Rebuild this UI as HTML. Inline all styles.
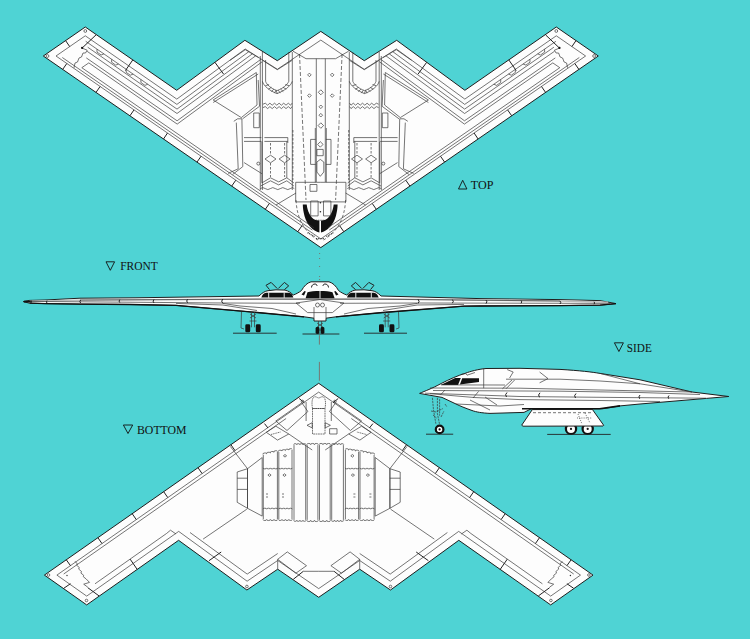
<!DOCTYPE html>
<html><head><meta charset="utf-8">
<style>
html,body{margin:0;padding:0;background:#4fd3d4;width:750px;height:639px;overflow:hidden}
svg{display:block}
.lbl{font-family:"Liberation Serif",serif;font-size:12.8px;fill:#111}
.o{fill:#fdfdfd;stroke:#1e1e1e;stroke-width:1}
.t{fill:none;stroke:#3a3a3a;stroke-width:0.7}
.k{fill:none;stroke:#222;stroke-width:1}
.b{fill:#111;stroke:none}
</style></head>
<body>
<svg width="750" height="639" viewBox="0 0 750 639">
<rect width="750" height="639" fill="#4fd3d4"/>
<path d="M319.6 253 V254 M319.6 258 V259 M319.6 266 V267 M319.6 276 V277 M319.6 279 V280 M319.4 335.2 V344.6 M319.4 361.9 V380.7" stroke="#7a6e66" stroke-width="0.9" fill="none"/>
<path class="o" d="M43.3 56.0 L85.3 27.0 L176.7 90.3 L244.9 40.3 L277.3 60.7 L320.8 31.4 L364.3 60.7 L396.7 40.3 L464.9 90.3 L556.3 27.0 L598.3 56.0 L320.8 247.6 Z"/>
<path class="t" d="M56.0 56.0 L85.3 35.8 L176.8 99.1 L245.2 49.0 L277.4 69.3 L320.8 40.1 L364.2 69.3 L396.4 49.0 L464.8 99.1 L556.3 35.8 L585.6 56.0 L320.8 238.9 Z"/>
<path class="b" d="M302.8 204.4 L306.7 204.4 C307.5 211 310 217 315 219.7 L319.4 220.8 L319.4 232.6 C313 231 307 225 304.5 216 C303.5 212 302.8 208 302.8 204.4 Z"/>
<path class="b" d="M337.6 204.4 L333.7 204.4 C332.9 211 330.4 217 325.4 219.7 L321 220.8 L321 232.6 C327.4 231 333.4 225 335.9 216 C336.9 212 337.6 208 337.6 204.4 Z"/>
<path d="M316 220.3 H324.5 M307.5 232.8 l7 3.6 M326.3 236.4 l7 -3.6 M316 238.6 h8" stroke="#333" stroke-width="1.1" stroke-dasharray="1 0.8" fill="none"/>
<circle cx="320.4" cy="202.8" r="0.8" fill="#222"/><circle cx="320.4" cy="211.8" r="0.8" fill="#222"/>
<path class="t" d="M318.3 92.3 L320.8 89.8 L323.3 92.3 L320.8 94.8 Z"/>
<path class="t" d="M319.0 106.8 L320.8 105.0 L322.6 106.8 L320.8 108.6 Z"/>
<path class="t" d="M319.0 115.2 L320.8 113.4 L322.6 115.2 L320.8 117.0 Z"/>
<path class="t" d="M318.1 125.6 L320.8 122.8 L323.6 125.6 L320.8 128.3 Z"/>
<path class="t" d="M317.6 144.4 L320.3 141.7 L323.1 144.4 L320.3 147.2 Z"/>
<path class="t" d="M310.0 184.5 L316.9 184.5 L316.9 191.3 L310.0 191.3 Z"/>
<path class="t" d="M316.9 149.4 L323.2 149.4 L323.2 155.7 L316.9 155.7 Z"/>
<path class="t" d="M316.9 162 L320.3 159.4 L323.8 162 V172 L320.3 176.3 L316.9 172 Z"/>
<g><path class="t" d="M85.7 41.3 L176.9 104.4 L248.9 51.6"/>
<path class="t" d="M87.7 47.2 L177.0 109.1 L252.4 53.8"/>
<path class="t" d="M87.1 51.3 L177.0 113.5 L255.7 55.8"/>
<path class="t" d="M86.3 57.9 L177.1 120.8 L261.0 59.2"/>
<path class="t" d="M88.8 62.9 L177.2 124.1 L262.0 61.9"/>
<path class="t" d="M88.8 62.9 L81.8 67.7"/>
<path class="t" d="M62.3 57.5 L312.4 230.1"/>
<path class="t" d="M81.8 67.7 L313.9 227.9"/>
<path class="t" d="M82.1 48.1 L87.2 50.2 L85.5 53.0 L83.0 53.0 L81.5 57.0 L79.0 58.0 L77.5 62.0 L75.0 63.0 L74.0 67.8"/>
<path class="k" d="M96.0 34.9 L82.1 48.1"/>
<path class="k" d="M65.6 40.6 L69.7 46.6"/>
<path class="k" d="M297.8 231.7 L301.9 225.8"/>
<path class="k" d="M265.3 209.3 L269.4 203.4"/>
<path class="k" d="M231.7 186.1 L235.8 180.2"/>
<path class="k" d="M197.0 162.1 L201.1 156.2"/>
<path class="k" d="M163.5 139.0 L167.5 133.0"/>
<path class="k" d="M129.9 115.8 L134.0 109.9"/>
<path class="k" d="M96.0 92.4 L100.1 86.5"/>
<path class="k" d="M62.7 69.4 L66.8 63.5"/>
<path class="k" d="M214.9 62.3 L223.5 74.0"/>
<path class="k" d="M132.8 59.9 L125.4 70.6"/>
<circle class="t" cx="47.5" cy="56" r="1.4"/><circle class="t" cx="85.3" cy="31" r="1.4"/>
<circle cx="82.1" cy="47.9" r="1.1" fill="#111"/>
<path class="t" d="M97.0 49.1 L97.0 52.1 L101.1 55.0 L103.9 53.9"/>
<path class="t" d="M111.7 59.2 L111.6 62.2 L115.7 65.1 L118.5 64.0"/>
<path class="t" d="M126.3 69.4 L126.2 72.4 L130.3 75.2 L133.1 74.1"/>
<path class="t" d="M140.9 79.5 L140.9 82.5 L145.0 85.4 L147.8 84.2"/>
<path class="t" d="M260.3 56.0 L260.3 190.0"/>
<path class="t" d="M262.4 52.0 L262.4 190.0"/>
<path class="t" d="M265.6 60.0 L265.6 81.3"/>
<path class="t" d="M288.8 52.0 L288.8 81.3"/>
<path class="t" d="M292.3 52.0 L292.3 190.0"/>
<path class="t" d="M299.5 54.0 L306.0 200.0" stroke-dasharray="4 2"/>
<path class="t" d="M316.3 58.7 L316.3 182.0"/>
<path class="t" d="M293.0 51.2 L306.0 58.7 L320.8 58.7"/>
<path class="t" d="M230.0 60.3 L245.3 49.7 L258.7 57.7"/>
<path class="t" d="M262.5 60.3 L277.3 69.7 L292.2 60.3"/>
<path class="t" stroke-width="0.7" d="M262.4 81.3 C263.5 86 270 91 277 93.6 C284 91 291 86 292.3 81.3 M265.6 81.3 C266.5 84.5 271 88.5 277 90.6 C283 88.5 287.5 84.5 288.8 81.3"/>
<path class="t" stroke-width="0.6" d="M265.4 85.7 L269.1 84.6 M268.4 89.2 L271.4 87.3 M271.4 91.6 L273.8 89.1 M274.4 93.1 L276.1 90.2 M277.4 93.6 L276.0 90.6 M280.3 93.1 L278.3 90.2 M283.3 91.6 L280.6 89.1 M286.3 89.2 L283.0 87.3 M289.3 85.7 L285.3 84.6"/>
<path class="t" stroke-width="0.7" d="M263.0 104.2 L265.3 103.2 L267.6 105.2 L269.9 103.2 L272.2 105.2 L274.5 103.2 L276.8 105.2 L279.1 103.2 L281.4 105.2 L283.7 103.2 L286.0 105.2 L288.3 103.2 L290.6 105.2 L292.0 103.2"/>
<path class="t" stroke-width="0.7" d="M263.0 107.6 L265.3 106.6 L267.6 108.6 L269.9 106.6 L272.2 108.6 L274.5 106.6 L276.8 108.6 L279.1 106.6 L281.4 108.6 L283.7 106.6 L286.0 108.6 L288.3 106.6 L290.6 108.6 L292.0 106.6"/>
<path class="t" d="M307.6 74.9 L309.4 73.1 L311.2 74.9 L309.4 76.7 Z"/>
<path class="t" d="M307.6 95.6 L309.4 93.8 L311.2 95.6 L309.4 97.4 Z"/>
<path class="t" d="M253.7 113.0 L259.3 113.0 L259.3 127.7 L253.7 127.7 Z"/>
<path class="t" d="M213.2 100.0 L256.3 72.5 L257.0 105.0 L241.3 117.6 Z"/>
<path class="t" d="M213.2 102.5 L258.2 74.0"/>
<path class="t" d="M258.2 80.0 L259.5 106.3 L242.6 118.8"/>
<path class="t" d="M233.8 121.3 L237.6 118.8 L241.9 118.8 L242.8 166.6 L232.6 174.5"/>
<path class="t" d="M236.3 122.6 L238.2 168.8 L228.0 173.4"/>
<path class="t" d="M244 137.6 H261.4 M244 141.4 H261.4 M264.4 137.6 H287.8 M264.4 141.4 H287.8 M287.8 137.6 V143"/>
<path class="t" d="M261.9 141.5 L261.9 182.9"/>
<path class="t" d="M286.8 141.5 L286.8 177.8"/>
<path class="t" d="M265.0 159.0 L270.5 155.2 L276.0 159.0 L270.5 162.8 Z"/>
<path class="t" d="M279.1 159.0 L284.6 155.2 L290.1 159.0 L284.6 162.8 Z"/>
<path class="t" stroke-dasharray="2.5 1.5" d="M270.5 143 V155 M270.5 163 V177 M284.6 143 V155 M284.6 163 V177 M292.9 130 V180"/>
<path class="t" stroke-width="0.8" d="M261.9 182.9 L270.5 177.8 L278.7 181.9 L286.8 177.8 L293.9 182.9 M260.6 186 L270.5 180.8 L278.7 184.9 L286.8 180.8 L293.9 186"/>
<path class="t" d="M260.3 188.6 q2.5 -2 5 0 t5 0 t5 0 t5 0 t5 0 t5 0 t4 0"/>
<circle class="t" cx="258.3" cy="163.6" r="1.5"/>
<path class="t" d="M244.1 162.6 L261.9 173.7"/>
<path class="t" d="M276.0 205.0 L296.0 193.0"/>
<path class="t" d="M315.7 139.4 L310.6 139.4 L310.6 164.4 L315.7 164.4"/>
<path class="t" d="M315.3 128.0 L315.3 182.3"/>
<path class="t" d="M295.7 182.3 L320.8 182.3"/>
<path class="t" d="M295.7 182.3 L295.7 201.9 L320.8 201.9"/>
<path class="t" d="M310.7 201.0 L318.1 201.0 L318.1 215.9 L310.7 215.9 Z"/>
<path class="t" d="M296 200 C 297 220 305 232 318 240" stroke-dasharray="3 2"/></g>
<g transform="matrix(-1 0 0 1 641.60 0)"><path class="t" d="M85.7 41.3 L176.9 104.4 L248.9 51.6"/>
<path class="t" d="M87.7 47.2 L177.0 109.1 L252.4 53.8"/>
<path class="t" d="M87.1 51.3 L177.0 113.5 L255.7 55.8"/>
<path class="t" d="M86.3 57.9 L177.1 120.8 L261.0 59.2"/>
<path class="t" d="M88.8 62.9 L177.2 124.1 L262.0 61.9"/>
<path class="t" d="M88.8 62.9 L81.8 67.7"/>
<path class="t" d="M62.3 57.5 L312.4 230.1"/>
<path class="t" d="M81.8 67.7 L313.9 227.9"/>
<path class="t" d="M82.1 48.1 L87.2 50.2 L85.5 53.0 L83.0 53.0 L81.5 57.0 L79.0 58.0 L77.5 62.0 L75.0 63.0 L74.0 67.8"/>
<path class="k" d="M96.0 34.9 L82.1 48.1"/>
<path class="k" d="M65.6 40.6 L69.7 46.6"/>
<path class="k" d="M297.8 231.7 L301.9 225.8"/>
<path class="k" d="M265.3 209.3 L269.4 203.4"/>
<path class="k" d="M231.7 186.1 L235.8 180.2"/>
<path class="k" d="M197.0 162.1 L201.1 156.2"/>
<path class="k" d="M163.5 139.0 L167.5 133.0"/>
<path class="k" d="M129.9 115.8 L134.0 109.9"/>
<path class="k" d="M96.0 92.4 L100.1 86.5"/>
<path class="k" d="M62.7 69.4 L66.8 63.5"/>
<path class="k" d="M214.9 62.3 L223.5 74.0"/>
<path class="k" d="M132.8 59.9 L125.4 70.6"/>
<circle class="t" cx="47.5" cy="56" r="1.4"/><circle class="t" cx="85.3" cy="31" r="1.4"/>
<circle cx="82.1" cy="47.9" r="1.1" fill="#111"/>
<path class="t" d="M97.0 49.1 L97.0 52.1 L101.1 55.0 L103.9 53.9"/>
<path class="t" d="M111.7 59.2 L111.6 62.2 L115.7 65.1 L118.5 64.0"/>
<path class="t" d="M126.3 69.4 L126.2 72.4 L130.3 75.2 L133.1 74.1"/>
<path class="t" d="M140.9 79.5 L140.9 82.5 L145.0 85.4 L147.8 84.2"/>
<path class="t" d="M260.3 56.0 L260.3 190.0"/>
<path class="t" d="M262.4 52.0 L262.4 190.0"/>
<path class="t" d="M265.6 60.0 L265.6 81.3"/>
<path class="t" d="M288.8 52.0 L288.8 81.3"/>
<path class="t" d="M292.3 52.0 L292.3 190.0"/>
<path class="t" d="M299.5 54.0 L306.0 200.0" stroke-dasharray="4 2"/>
<path class="t" d="M316.3 58.7 L316.3 182.0"/>
<path class="t" d="M293.0 51.2 L306.0 58.7 L320.8 58.7"/>
<path class="t" d="M230.0 60.3 L245.3 49.7 L258.7 57.7"/>
<path class="t" d="M262.5 60.3 L277.3 69.7 L292.2 60.3"/>
<path class="t" stroke-width="0.7" d="M262.4 81.3 C263.5 86 270 91 277 93.6 C284 91 291 86 292.3 81.3 M265.6 81.3 C266.5 84.5 271 88.5 277 90.6 C283 88.5 287.5 84.5 288.8 81.3"/>
<path class="t" stroke-width="0.6" d="M265.4 85.7 L269.1 84.6 M268.4 89.2 L271.4 87.3 M271.4 91.6 L273.8 89.1 M274.4 93.1 L276.1 90.2 M277.4 93.6 L276.0 90.6 M280.3 93.1 L278.3 90.2 M283.3 91.6 L280.6 89.1 M286.3 89.2 L283.0 87.3 M289.3 85.7 L285.3 84.6"/>
<path class="t" stroke-width="0.7" d="M263.0 104.2 L265.3 103.2 L267.6 105.2 L269.9 103.2 L272.2 105.2 L274.5 103.2 L276.8 105.2 L279.1 103.2 L281.4 105.2 L283.7 103.2 L286.0 105.2 L288.3 103.2 L290.6 105.2 L292.0 103.2"/>
<path class="t" stroke-width="0.7" d="M263.0 107.6 L265.3 106.6 L267.6 108.6 L269.9 106.6 L272.2 108.6 L274.5 106.6 L276.8 108.6 L279.1 106.6 L281.4 108.6 L283.7 106.6 L286.0 108.6 L288.3 106.6 L290.6 108.6 L292.0 106.6"/>
<path class="t" d="M307.6 74.9 L309.4 73.1 L311.2 74.9 L309.4 76.7 Z"/>
<path class="t" d="M307.6 95.6 L309.4 93.8 L311.2 95.6 L309.4 97.4 Z"/>
<path class="t" d="M253.7 113.0 L259.3 113.0 L259.3 127.7 L253.7 127.7 Z"/>
<path class="t" d="M213.2 100.0 L256.3 72.5 L257.0 105.0 L241.3 117.6 Z"/>
<path class="t" d="M213.2 102.5 L258.2 74.0"/>
<path class="t" d="M258.2 80.0 L259.5 106.3 L242.6 118.8"/>
<path class="t" d="M233.8 121.3 L237.6 118.8 L241.9 118.8 L242.8 166.6 L232.6 174.5"/>
<path class="t" d="M236.3 122.6 L238.2 168.8 L228.0 173.4"/>
<path class="t" d="M244 137.6 H261.4 M244 141.4 H261.4 M264.4 137.6 H287.8 M264.4 141.4 H287.8 M287.8 137.6 V143"/>
<path class="t" d="M261.9 141.5 L261.9 182.9"/>
<path class="t" d="M286.8 141.5 L286.8 177.8"/>
<path class="t" d="M265.0 159.0 L270.5 155.2 L276.0 159.0 L270.5 162.8 Z"/>
<path class="t" d="M279.1 159.0 L284.6 155.2 L290.1 159.0 L284.6 162.8 Z"/>
<path class="t" stroke-dasharray="2.5 1.5" d="M270.5 143 V155 M270.5 163 V177 M284.6 143 V155 M284.6 163 V177 M292.9 130 V180"/>
<path class="t" stroke-width="0.8" d="M261.9 182.9 L270.5 177.8 L278.7 181.9 L286.8 177.8 L293.9 182.9 M260.6 186 L270.5 180.8 L278.7 184.9 L286.8 180.8 L293.9 186"/>
<path class="t" d="M260.3 188.6 q2.5 -2 5 0 t5 0 t5 0 t5 0 t5 0 t5 0 t4 0"/>
<circle class="t" cx="258.3" cy="163.6" r="1.5"/>
<path class="t" d="M244.1 162.6 L261.9 173.7"/>
<path class="t" d="M276.0 205.0 L296.0 193.0"/>
<path class="t" d="M315.7 139.4 L310.6 139.4 L310.6 164.4 L315.7 164.4"/>
<path class="t" d="M315.3 128.0 L315.3 182.3"/>
<path class="t" d="M295.7 182.3 L320.8 182.3"/>
<path class="t" d="M295.7 182.3 L295.7 201.9 L320.8 201.9"/>
<path class="t" d="M310.7 201.0 L318.1 201.0 L318.1 215.9 L310.7 215.9 Z"/>
<path class="t" d="M296 200 C 297 220 305 232 318 240" stroke-dasharray="3 2"/></g>

<path class="o" d="M23.2 301.6 L29.6 300.4 L45 300 L80 298.2 L135 297.8 L259 296 C262 293 265 291 268 290.7 L276 289.8 L285 290.1 C289 291 291 293 293.3 295 C296 294 299 292.5 301.5 290.5 C304 286 307 283 311 281.8 L329 281.8 C333 283 336 286 338.5 290.5 C341 292.5 344 294 346.7 295 C349 293 351 291 355 290.1 L364 289.8 L372 290.7 C375 291 378 293 381 296 L480 298.6 L560 299.6 L600 300.6 L616 303.6 L600 305.2 L560 305.6 L480 306 L464 306.2 L383 312.5 L336 316.8 L326 318.2 L326 321 L314 321 L314 318.2 L304 316.8 L257 312.5 L176 305.4 L130 304.5 L80 304.1 L45 303.6 L29.6 303.2 Z"/>
<path d="M29.6 303.2 L45 303.6 L80 304.1 L130 304.5 L176 305.4 L257 312.5 L304 316.8 M336 316.8 L383 312.5 L464 306.2 L480 306 L560 305.6 L600 305.2 L616 303.6" stroke="#111" stroke-width="1.3" fill="none"/>
<path d="M30 301.2 L80 300.2 L259 299 L381 299 L560 301 L608 302.2" stroke="#bbb" stroke-width="1.6" fill="none"/>
<path d="M24 301.6 L32 301.6" stroke="#111" stroke-width="1.8"/>
<path class="t" d="M30 301.4 L224 303 L300 303.3 M340 303.3 L420 303 L610 303.4"/>
<path class="t" d="M80 300 L259 299.2 L381 299.2 L560 301"/>
<path class="k" d="M47 300.6 q-1.2 1.2 0 2.4 M80.6 300 q-1.5 1.5 0 3 M119.8 299.6 q-1.5 1.5 0 3 M154 299.4 q-1.8 1.8 0 3.6 M187.6 299.2 q-1.8 1.8 0 3.6 M222.8 299 q-2.2 2.2 0 4.4"/>
<path class="k" d="M418 299.2 q2.2 2.2 0 4.4 M452.4 299.6 q1.8 1.8 0 3.6 M486 300 q1.8 1.8 0 3.6 M521 300.4 q1.5 1.5 0 3 M560 301 q1.5 1.5 0 3 M594 301.8 q1.2 1.2 0 2.4"/>
<path class="t" d="M176 303.4 L222.8 305 L257 310.5 M222.8 303.4 L240 306 L272 308.5 L296 314 M464 304.4 L417.2 305 L383 310.5 M417.2 303.4 L400 306 L368 308.5 L344 314"/>
<path class="t" d="M296 303 L320 299.5 L344 303 L332.4 312.6 L307.6 312.6 Z"/>
<path class="t" d="M314 307 V318 M326 307 V318"/>
<circle class="t" cx="317.5" cy="305" r="2"/><circle class="t" cx="322.5" cy="305" r="2"/>
<path class="b" d="M261.3 297.6 C262.5 294.5 264 293 266 292.8 L289 292.8 C291 293 292.5 294.5 293.3 297.6 Z"/>
<path class="b" d="M347 297.6 C347.8 294.5 349.5 293 351.5 292.8 L374 292.8 C376 293 377.5 294.5 378.7 297.6 Z"/>
<path d="M268.7 292.5 V297.8 M284.2 292.5 V297.8 M355.8 292.5 V297.8 M371.3 292.5 V297.8" stroke="#fdfdfd" stroke-width="0.9"/>
<path class="b" d="M305.6 298.2 L307.5 292.2 C310 291.4 315 291 320 291 C325 291 330 291.4 332.5 292.2 L334.6 298.2 Z"/>
<path class="b" d="M301.5 294.5 L304.5 291 L305.8 291.5 L304 295.5 Z M338.5 294.5 L335.5 291 L334.2 291.5 L336 295.5 Z"/>
<path d="M320 290.5 V298.5" stroke="#fdfdfd" stroke-width="0.9"/>
<path class="k" stroke-width="0.8" d="M311.5 287.5 c0 -2.5 2 -3.5 3.5 -3.5 c1.5 0 2 1 2 2 M328.5 287.5 c0 -2.5 -2 -3.5 -3.5 -3.5 c-1.5 0 -2 1 -2 2"/>
<path class="k" stroke-width="0.8" d="M266 285.3 L271.1 282.4 L277.2 288.5 M266 285.3 L269.5 289.6 M278.3 288.5 L284.4 282.4 L288.7 285.9 L284.4 289.6 M374 285.3 L368.9 282.4 L362.8 288.5 M374 285.3 L370.5 289.6 M361.7 288.5 L355.6 282.4 L351.3 285.9 L355.6 289.6"/>
<path class="t" d="M251.5 312.0 V327.3 M254.5 312.0 V327.3"/>
<path class="t" d="M250.0 314.0 L256.0 318.0 M256.0 314.0 L250.0 318.0"/>
<path class="t" d="M249.5 321.0 L256.5 321.0"/>
<rect x="245.3" y="324.3" width="4.9" height="8.0" rx="1.4" fill="#111"/>
<rect x="255.8" y="324.3" width="4.9" height="8.0" rx="1.4" fill="#111"/>
<path d="M233.0 333.2 H276.7" stroke="#222" stroke-width="0.9"/>
<path class="t" d="M241.5 312.0 L241.0 328.0 L244.0 329.0"/><path class="t" d="M385.2 312.0 V327.3 M388.2 312.0 V327.3"/>
<path class="t" d="M383.7 314.0 L389.7 318.0 M389.7 314.0 L383.7 318.0"/>
<path class="t" d="M383.2 321.0 L390.2 321.0"/>
<rect x="379.0" y="324.3" width="4.9" height="8.0" rx="1.4" fill="#111"/>
<rect x="389.5" y="324.3" width="4.9" height="8.0" rx="1.4" fill="#111"/>
<path d="M364.0 333.2 H407.0" stroke="#222" stroke-width="0.9"/>
<path class="t" d="M398.5 312.0 L399.0 328.0 L396.0 329.0"/><path class="t" d="M318.5 321.0 V330.0 M321.5 321.0 V330.0"/>
<path class="t" d="M317.0 323.0 L323.0 327.0 M323.0 323.0 L317.0 327.0"/>
<path class="t" d="M316.5 330.0 L323.5 330.0"/>
<rect x="315.6" y="327.0" width="3.8" height="7.0" rx="1.4" fill="#111"/>
<rect x="320.6" y="327.0" width="3.8" height="7.0" rx="1.4" fill="#111"/>
<path d="M302.5 334.0 H339.4" stroke="#222" stroke-width="0.9"/>
<path class="o" d="M419.6 393.4 C425 391 432 388.5 441.2 383.5 C450 379 458 375.5 465.5 373.2 C470 371.5 478 369.2 486 368.5 L520 368.3 L560 369.4 C580 370.6 592 372 600 373.4 L640 379.8 L692 392 L728.8 396.5 L706.4 398.4 L640 404 L620 405.9 L603 408.7 L531 408.9 L524 412.4 L490 413.4 C482 413 476 412 472 410.5 C465 408 460 406 456 404 L442 397.4 Z"/>
<circle cx="571.0" cy="428.9" r="5.1" fill="#fdfdfd" stroke="#111" stroke-width="2.2"/><circle cx="571.0" cy="428.9" r="1.1" fill="#111"/><circle cx="587.7" cy="428.9" r="5.1" fill="#fdfdfd" stroke="#111" stroke-width="2.2"/><circle cx="587.7" cy="428.9" r="1.1" fill="#111"/>
<path class="o" d="M532.3 409.6 L592.3 409.3 L603.7 425.3 L603 426 L523 426.2 L521.7 425.2 Z"/>
<path d="M522 408.7 L599.5 408.7 L620 405.9" stroke="#111" stroke-width="1.6" fill="none"/>
<path class="b" d="M440.7 384.9 L455.2 377.9 L460.8 377.9 L458 384.9 Z"/>
<path class="b" d="M459.9 384.4 L462.2 378.3 L479 378.3 L479 382.1 Z"/>
<path class="t" d="M461.5 374.2 L466 373.6 L467 375.2 L475 372.5"/>
<path class="t" d="M483.7 368.6 V388.2"/>
<path class="t" d="M441 384.9 L505 385 M430 388 L520 388.2 L600 390 L692 392"/>
<path class="t" d="M433 390.5 L560 391.2 L640 392.5 L700 394.5"/>
<path class="t" d="M425 393.2 L520 396.5 L620 397.5 L706 398.2"/>
<path class="t" d="M430 393.7 L474 397.5 L520 399.6 L600 400.5 L660 401.5"/>
<path class="t" d="M506 379.2 L560 379.2 L600 381 L640 383.8"/>
<path class="t" d="M600 373.4 L640 383.8 L692 392"/>
<path class="t" d="M440.3 395.1 L445 390 M473 398 L478.6 391.4"/>
<path class="t" d="M507.2 369.6 L513.2 372 L509.6 378 M539.6 372 L548 378.6 L539.6 382.8"/>
<path class="t" d="M502.4 388.8 L512 380 M506 388.8 L514.6 380"/>
<path class="t" d="M456 404 L500 406 L524 404.5 M470 400 L490 410 M485 397 L497 405"/>
<path class="k" d="M507 392.5 q-2.5 2 -0.5 4.5 M540 392.8 q-2.5 2 -0.5 4.5 M576 393.5 q-2.5 2 -0.5 4.5 M640 395 q-2 1.8 -0.3 3.8 M669 395.5 q-1.8 1.5 -0.3 3.2"/>
<path class="t" stroke-dasharray="3 2" d="M533 412.7 H592"/><path class="t" stroke-dasharray="1 1.2" d="M578 414 L582 424 M585 413 L590 423 M577 418 H592"/>
<path class="t" stroke-width="0.8" stroke-dasharray="2.2 0.8" d="M432.4 397.8 L433.5 410 L436 424.4 M437.4 397.8 L437.4 413.6 L439.6 424.4 M439.6 399.2 L439.6 415.7 M431 411 L436 412 L443 408.5 M433 415 L436.5 418 M441 417 L444 411 M445 404 L447 407"/>
<path d="M426 434.2 H453.2 M547.2 434.4 H610.7" stroke="#222" stroke-width="0.9"/>
<circle cx="439.6" cy="429.4" r="3.8" fill="#fdfdfd" stroke="#111" stroke-width="2.2"/><circle cx="439.6" cy="429.4" r="1.1" fill="#111"/><path class="o" d="M44.4 575.1 L318.7 383.3 L593.0 575.1 L550.7 604.9 L458.8 540.3 L390.5 590.0 L359.7 569.2 L318.7 597.3 L277.7 569.2 L246.9 590.0 L178.6 540.3 L86.7 604.9 Z"/>
<path class="t" d="M56.9 575.1 L318.7 392.1 L580.5 575.1 L550.7 596.1 L458.7 531.4 L390.3 581.2 L359.7 560.5 L318.7 588.6 L277.7 560.5 L247.1 581.2 L178.7 531.4 L86.7 596.1 Z"/>
<path class="t" d="M312.5 408.5 C311.5 403 312 398 314 397 C316 396 317.5 398 318.7 398 C320 398 321.5 396 323.5 397 C325.5 398 326 403 325 408.5 Z" stroke-dasharray="1.6 0.6"/>
<path class="t" d="M312.5 408.5 H325 V434 H312.5 Z" stroke-dasharray="1.8 0.6"/>
<path class="t" d="M329.6 428.7 H337 V434 H329.6 Z"/>
<g><path class="t" d="M63.7 574.0 L286.1 418.5"/>
<path class="k" d="M66.3 559.8 L70.5 565.7"/>
<path class="k" d="M97.9 537.7 L102.0 543.6"/>
<path class="k" d="M132.2 513.7 L136.3 519.6"/>
<path class="k" d="M163.7 491.7 L167.8 497.6"/>
<path class="k" d="M198.0 467.7 L202.1 473.6"/>
<path class="k" d="M230.9 444.7 L235.0 450.6"/>
<path class="k" d="M137.2 569.4 L130.1 559.1"/>
<path class="k" d="M87.8 587.7 L99 595.9"/>
<path class="t" d="M95.0 583.8 L166.5 533.5 L170.5 530.2 L176.0 534.0"/>
<path class="t" d="M190.0 532.5 L247.2 574.1 L277.7 553.5"/>
<circle class="t" cx="246.9" cy="586.5" r="1.3"/>
<path class="t" d="M75.1 561.3 l2.2 2.6 l-0.6 1.4 l2.6 2.2 l-0.6 1.6 l2.8 2.4 l-0.6 1.6 l2.8 2.2 l-0.4 1.4 l2.8 2.2 l3.4 3.5 L83.7 584.2 L87.8 587.2"/>
<path class="k" d="M63.9 588.2 L70.5 583.7"/>
<circle class="t" cx="48.5" cy="575" r="1.3"/><circle class="t" cx="86.5" cy="600.5" r="1.3"/><circle cx="67" cy="575.5" r="0.7" fill="#333"/>
<path class="k" d="M209 560.7 L221.2 552"/>
<path class="t" d="M246.8 509.2 L203.1 539.1"/>
<path class="t" d="M247.5 468.7 L230.3 446.4"/>
<path class="t" d="M277.7 559.3 L287.3 551.9 L306.5 565.7 L295.9 573.2 Z"/>
<path class="t" d="M277.7 559.3 L277.7 568.9"/>
<path class="t" d="M303.3 571.3 L318.7 571.3"/>
<path class="k" d="M293.3 579.3 L303.3 571.3"/>
<path class="t" d="M237.2 472.0 L247.5 468.7 L247.5 508.3 L237.2 502.3 Z"/>
<path class="t" d="M237.2 478.2 L247.5 478.2"/>
<path class="t" d="M237.2 489.4 L247.5 489.4"/>
<path class="t" d="M247.5 468.7 L262.2 457.5 L262.2 516.1 L247.5 508.3 Z"/>
<path class="t" d="M263.3 455.0 V519.0 M277.4 452.0 V519.0"/>
<path class="t" d="M263.0 454.5 a1.84 1.10 0 0 1 3.67 -0.75 a1.84 1.10 0 0 1 3.67 -0.75 a1.84 1.10 0 0 1 3.67 -0.75 a1.84 1.10 0 0 1 3.67 -0.75"/>
<path class="t" d="M263.0 519.5 a1.84 1.10 0 0 0 3.67 0.00 a1.84 1.10 0 0 0 3.67 0.00 a1.84 1.10 0 0 0 3.67 0.00 a1.84 1.10 0 0 0 3.67 0.00"/>
<path class="t" d="M278.8 452.0 V519.0 M292.0 450.0 V519.0"/>
<path class="t" d="M278.5 451.5 a1.73 1.04 0 0 1 3.45 -0.50 a1.73 1.04 0 0 1 3.45 -0.50 a1.73 1.04 0 0 1 3.45 -0.50 a1.73 1.04 0 0 1 3.45 -0.50"/>
<path class="t" d="M278.5 519.5 a1.73 1.04 0 0 0 3.45 0.00 a1.73 1.04 0 0 0 3.45 0.00 a1.73 1.04 0 0 0 3.45 0.00 a1.73 1.04 0 0 0 3.45 0.00"/>
<path class="t" d="M294.0 445.1 V519.9 M305.7 445.1 V519.9"/>
<path class="t" d="M293.7 444.6 a1.54 0.92 0 0 1 3.08 0.00 a1.54 0.92 0 0 1 3.08 0.00 a1.54 0.92 0 0 1 3.08 0.00 a1.54 0.92 0 0 1 3.08 0.00"/>
<path class="t" d="M293.7 520.4 a1.54 0.92 0 0 0 3.08 0.00 a1.54 0.92 0 0 0 3.08 0.00 a1.54 0.92 0 0 0 3.08 0.00 a1.54 0.92 0 0 0 3.08 0.00"/>
<path class="t" d="M307.2 445.1 V519.9 M317.9 445.1 V519.9"/>
<path class="t" d="M306.9 444.6 a1.88 1.13 0 0 1 3.77 0.00 a1.88 1.13 0 0 1 3.77 0.00 a1.88 1.13 0 0 1 3.77 0.00"/>
<path class="t" d="M306.9 520.4 a1.88 1.13 0 0 0 3.77 0.00 a1.88 1.13 0 0 0 3.77 0.00 a1.88 1.13 0 0 0 3.77 0.00"/>
<path class="t" d="M263.0 467.9 a1.84 1.10 0 0 0 3.67 0.00 a1.84 1.10 0 0 0 3.67 0.00 a1.84 1.10 0 0 0 3.67 0.00 a1.84 1.10 0 0 0 3.67 0.00 M263.0 509.2 a1.84 1.10 0 0 1 3.67 0.00 a1.84 1.10 0 0 1 3.67 0.00 a1.84 1.10 0 0 1 3.67 0.00 a1.84 1.10 0 0 1 3.67 0.00"/>
<path class="t" d="M278.5 467.9 a1.73 1.04 0 0 0 3.45 0.00 a1.73 1.04 0 0 0 3.45 0.00 a1.73 1.04 0 0 0 3.45 0.00 a1.73 1.04 0 0 0 3.45 0.00 M278.5 509.2 a1.73 1.04 0 0 1 3.45 0.00 a1.73 1.04 0 0 1 3.45 0.00 a1.73 1.04 0 0 1 3.45 0.00 a1.73 1.04 0 0 1 3.45 0.00"/>
<path class="t" d="M267.9 475.1 L269.5 473.8 L271.1 475.1 L269.5 476.4 Z"/>
<path class="t" d="M282.9 475.1 L284.5 473.8 L286.1 475.1 L284.5 476.4 Z"/>
<path class="t" d="M283.4 455.8 L285.0 454.5 L286.6 455.8 L285.0 457.1 Z"/>
<path class="t" d="M266 494 h2 M266 497 h2 M282 494 h2 M282 497 h2"/>
<path class="t" d="M266.3 432.3 L275.8 426.2 L288.8 434.0 L277.5 440.1 Z"/>
<path class="t" d="M271 434.5 l9.5 -2.5" stroke-dasharray="1.2 0.6" stroke-width="1.1"/>
<path class="t" d="M275.8 421.0 L301.8 402.8 L307.9 411.5 L287.0 430.5 Z"/>
<path class="t" d="M288.8 434.0 L312.2 450.0"/>
<path class="t" d="M306.1 402.0 L306.1 421.0"/>
<path class="t" d="M307.0 425.3 L312.2 422.7 L312.2 427.9 Z"/>
<path class="k" d="M299.2 398.5 L304.4 402.8 M264.5 423.6 L268 428"/>
<circle class="t" cx="302.5" cy="401.5" r="1.3"/></g>
<g transform="matrix(-1 0 0 1 637.40 0)"><path class="t" d="M63.7 574.0 L286.1 418.5"/>
<path class="k" d="M66.3 559.8 L70.5 565.7"/>
<path class="k" d="M97.9 537.7 L102.0 543.6"/>
<path class="k" d="M132.2 513.7 L136.3 519.6"/>
<path class="k" d="M163.7 491.7 L167.8 497.6"/>
<path class="k" d="M198.0 467.7 L202.1 473.6"/>
<path class="k" d="M230.9 444.7 L235.0 450.6"/>
<path class="k" d="M137.2 569.4 L130.1 559.1"/>
<path class="k" d="M87.8 587.7 L99 595.9"/>
<path class="t" d="M95.0 583.8 L166.5 533.5 L170.5 530.2 L176.0 534.0"/>
<path class="t" d="M190.0 532.5 L247.2 574.1 L277.7 553.5"/>
<circle class="t" cx="246.9" cy="586.5" r="1.3"/>
<path class="t" d="M75.1 561.3 l2.2 2.6 l-0.6 1.4 l2.6 2.2 l-0.6 1.6 l2.8 2.4 l-0.6 1.6 l2.8 2.2 l-0.4 1.4 l2.8 2.2 l3.4 3.5 L83.7 584.2 L87.8 587.2"/>
<path class="k" d="M63.9 588.2 L70.5 583.7"/>
<circle class="t" cx="48.5" cy="575" r="1.3"/><circle class="t" cx="86.5" cy="600.5" r="1.3"/><circle cx="67" cy="575.5" r="0.7" fill="#333"/>
<path class="k" d="M209 560.7 L221.2 552"/>
<path class="t" d="M246.8 509.2 L203.1 539.1"/>
<path class="t" d="M247.5 468.7 L230.3 446.4"/>
<path class="t" d="M277.7 559.3 L287.3 551.9 L306.5 565.7 L295.9 573.2 Z"/>
<path class="t" d="M277.7 559.3 L277.7 568.9"/>
<path class="t" d="M303.3 571.3 L318.7 571.3"/>
<path class="k" d="M293.3 579.3 L303.3 571.3"/>
<path class="t" d="M237.2 472.0 L247.5 468.7 L247.5 508.3 L237.2 502.3 Z"/>
<path class="t" d="M237.2 478.2 L247.5 478.2"/>
<path class="t" d="M237.2 489.4 L247.5 489.4"/>
<path class="t" d="M247.5 468.7 L262.2 457.5 L262.2 516.1 L247.5 508.3 Z"/>
<path class="t" d="M263.3 455.0 V519.0 M277.4 452.0 V519.0"/>
<path class="t" d="M263.0 454.5 a1.84 1.10 0 0 1 3.67 -0.75 a1.84 1.10 0 0 1 3.67 -0.75 a1.84 1.10 0 0 1 3.67 -0.75 a1.84 1.10 0 0 1 3.67 -0.75"/>
<path class="t" d="M263.0 519.5 a1.84 1.10 0 0 0 3.67 0.00 a1.84 1.10 0 0 0 3.67 0.00 a1.84 1.10 0 0 0 3.67 0.00 a1.84 1.10 0 0 0 3.67 0.00"/>
<path class="t" d="M278.8 452.0 V519.0 M292.0 450.0 V519.0"/>
<path class="t" d="M278.5 451.5 a1.73 1.04 0 0 1 3.45 -0.50 a1.73 1.04 0 0 1 3.45 -0.50 a1.73 1.04 0 0 1 3.45 -0.50 a1.73 1.04 0 0 1 3.45 -0.50"/>
<path class="t" d="M278.5 519.5 a1.73 1.04 0 0 0 3.45 0.00 a1.73 1.04 0 0 0 3.45 0.00 a1.73 1.04 0 0 0 3.45 0.00 a1.73 1.04 0 0 0 3.45 0.00"/>
<path class="t" d="M294.0 445.1 V519.9 M305.7 445.1 V519.9"/>
<path class="t" d="M293.7 444.6 a1.54 0.92 0 0 1 3.08 0.00 a1.54 0.92 0 0 1 3.08 0.00 a1.54 0.92 0 0 1 3.08 0.00 a1.54 0.92 0 0 1 3.08 0.00"/>
<path class="t" d="M293.7 520.4 a1.54 0.92 0 0 0 3.08 0.00 a1.54 0.92 0 0 0 3.08 0.00 a1.54 0.92 0 0 0 3.08 0.00 a1.54 0.92 0 0 0 3.08 0.00"/>
<path class="t" d="M307.2 445.1 V519.9 M317.9 445.1 V519.9"/>
<path class="t" d="M306.9 444.6 a1.88 1.13 0 0 1 3.77 0.00 a1.88 1.13 0 0 1 3.77 0.00 a1.88 1.13 0 0 1 3.77 0.00"/>
<path class="t" d="M306.9 520.4 a1.88 1.13 0 0 0 3.77 0.00 a1.88 1.13 0 0 0 3.77 0.00 a1.88 1.13 0 0 0 3.77 0.00"/>
<path class="t" d="M263.0 467.9 a1.84 1.10 0 0 0 3.67 0.00 a1.84 1.10 0 0 0 3.67 0.00 a1.84 1.10 0 0 0 3.67 0.00 a1.84 1.10 0 0 0 3.67 0.00 M263.0 509.2 a1.84 1.10 0 0 1 3.67 0.00 a1.84 1.10 0 0 1 3.67 0.00 a1.84 1.10 0 0 1 3.67 0.00 a1.84 1.10 0 0 1 3.67 0.00"/>
<path class="t" d="M278.5 467.9 a1.73 1.04 0 0 0 3.45 0.00 a1.73 1.04 0 0 0 3.45 0.00 a1.73 1.04 0 0 0 3.45 0.00 a1.73 1.04 0 0 0 3.45 0.00 M278.5 509.2 a1.73 1.04 0 0 1 3.45 0.00 a1.73 1.04 0 0 1 3.45 0.00 a1.73 1.04 0 0 1 3.45 0.00 a1.73 1.04 0 0 1 3.45 0.00"/>
<path class="t" d="M267.9 475.1 L269.5 473.8 L271.1 475.1 L269.5 476.4 Z"/>
<path class="t" d="M282.9 475.1 L284.5 473.8 L286.1 475.1 L284.5 476.4 Z"/>
<path class="t" d="M283.4 455.8 L285.0 454.5 L286.6 455.8 L285.0 457.1 Z"/>
<path class="t" d="M266 494 h2 M266 497 h2 M282 494 h2 M282 497 h2"/>
<path class="t" d="M266.3 432.3 L275.8 426.2 L288.8 434.0 L277.5 440.1 Z"/>
<path class="t" d="M271 434.5 l9.5 -2.5" stroke-dasharray="1.2 0.6" stroke-width="1.1"/>
<path class="t" d="M275.8 421.0 L301.8 402.8 L307.9 411.5 L287.0 430.5 Z"/>
<path class="t" d="M288.8 434.0 L312.2 450.0"/>
<path class="t" d="M306.1 402.0 L306.1 421.0"/>
<path class="t" d="M307.0 425.3 L312.2 422.7 L312.2 427.9 Z"/>
<path class="k" d="M299.2 398.5 L304.4 402.8 M264.5 423.6 L268 428"/>
<circle class="t" cx="302.5" cy="401.5" r="1.3"/></g>

<path d="M458.5 189 L462.7 180.3 L466.9 189 Z" fill="none" stroke="#111" stroke-width="0.9"/>
<text class="lbl" x="470.8" y="189" textLength="22.6" lengthAdjust="spacingAndGlyphs">TOP</text>
<path d="M106 261.8 L114.6 261.8 L110.3 270.3 Z" fill="none" stroke="#111" stroke-width="0.9"/>
<text class="lbl" x="120.2" y="270.2" textLength="37.6" lengthAdjust="spacingAndGlyphs">FRONT</text>
<path d="M614.4 342.8 L623.4 342.8 L618.9 351.5 Z" fill="none" stroke="#111" stroke-width="0.9"/>
<text class="lbl" x="626.8" y="351.6" textLength="25" lengthAdjust="spacingAndGlyphs">SIDE</text>
<path d="M123.4 425 L132.7 425 L128 433.5 Z" fill="none" stroke="#111" stroke-width="0.9"/>
<text class="lbl" x="137" y="433.8" textLength="49.6" lengthAdjust="spacingAndGlyphs">BOTTOM</text>

</svg>
</body></html>
